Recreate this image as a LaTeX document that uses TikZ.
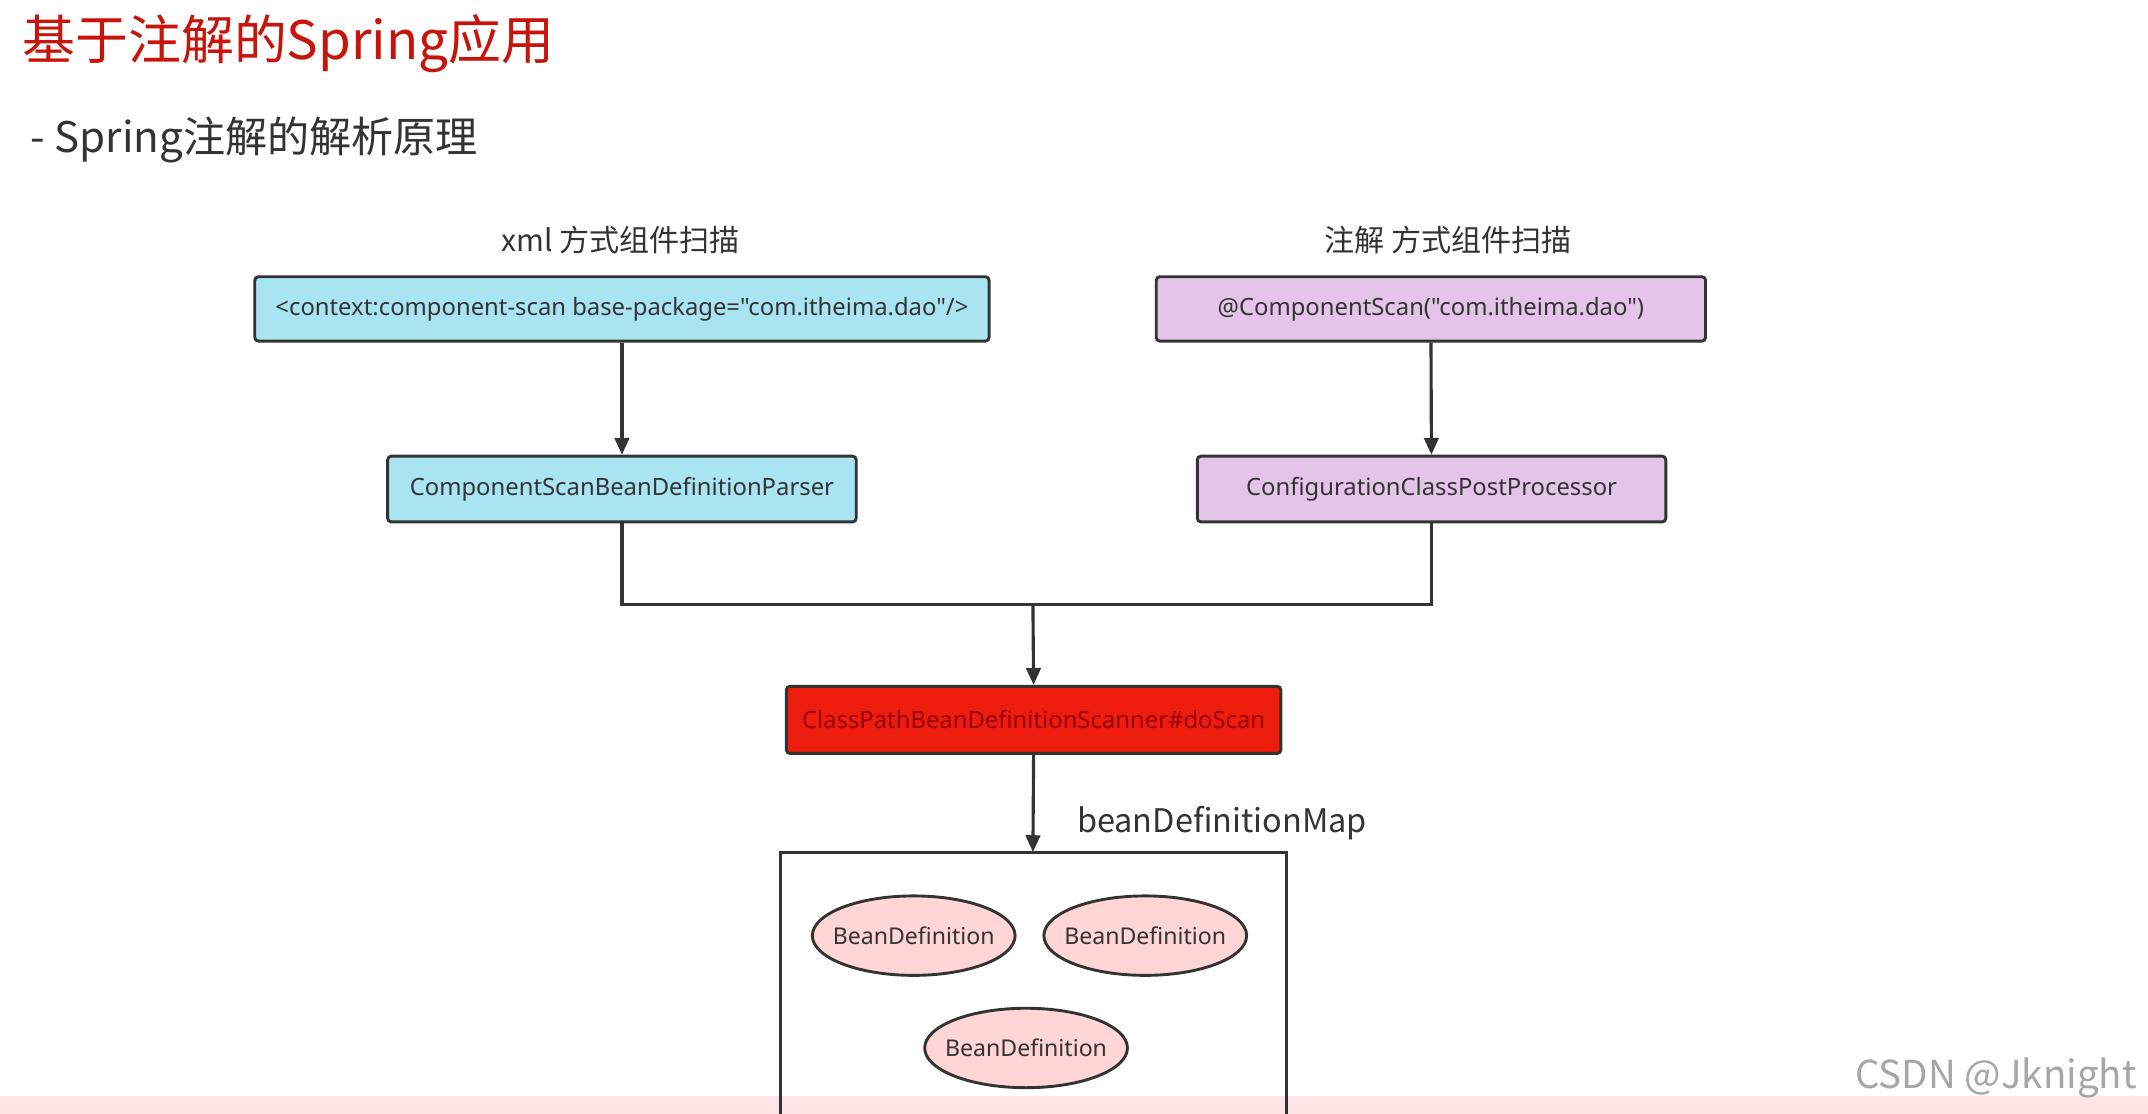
\documentclass[tikz,border=0pt]{standalone}
\usepackage{fontspec}
\setmainfont{Noto Sans CJK SC}
\newfontfamily\lat{Noto Sans}
\usetikzlibrary{arrows.meta,shapes.geometric}
\definecolor{cy}{HTML}{A8E4F2}
\definecolor{li}{HTML}{E5C4EA}
\definecolor{rd}{HTML}{EE1C0C}
\definecolor{pk}{HTML}{FFD5D5}
\definecolor{tx}{HTML}{333333}
\newcommand{\qq}{\symbol{34}}
\begin{document}
\begin{tikzpicture}[x=0.02cm,y=-0.02cm,
  box/.style={draw=tx,line width=1.2pt,rounded corners=1.5pt,inner sep=0,font=\lat\fontsize{9.9}{12}\selectfont,text=tx},
  ell/.style={draw=tx,line width=1.2pt,ellipse,fill=pk,inner xsep=-0.15cm,inner ysep=0.2cm,minimum width=148*0.02cm,minimum height=58*0.02cm,font=\lat\fontsize{9.6}{12}\selectfont,text=tx},
  arr/.style={draw=tx,line width=1.3pt,-{Triangle[length=7pt,width=6pt]}},
  ln/.style={draw=tx,line width=1.3pt}]
\useasboundingbox (0,0) rectangle (1568,813);
\fill[white] (0,0) rectangle (1568,813);
\fill[pink!40] (0,800) rectangle (1568,813);
\node[anchor=west,text={rgb,255:red,200;green,20;blue,10},font=\fontsize{22}{26}\selectfont] (title) at (10,32) {基于注解的Spring应用};
\node[anchor=west,text=tx,font=\fontsize{17.5}{20}\selectfont] (sub) at (16,102) {- Spring注解的解析原理};
\node[text=tx,font=\fontsize{12.5}{15}\selectfont] (l1) at (453,175) {xml 方式组件扫描};
\node[text=tx,font=\fontsize{12.5}{15}\selectfont] (l2) at (1057,175) {注解 方式组件扫描};
\node[box,fill=cy,minimum width=536*0.02cm,minimum height=47*0.02cm] (b1) at (454,225.5) {<context:component-scan base-package=\qq com.itheima.dao\qq/>};
\node[box,fill=li,minimum width=401*0.02cm,minimum height=47*0.02cm] (b2) at (1044.5,225.5) {@ComponentScan(\qq com.itheima.dao\qq)};
\node[box,fill=cy,minimum width=342*0.02cm,minimum height=48*0.02cm] (b3) at (454,357) {ComponentScanBeanDefinitionParser};
\node[box,fill=li,minimum width=342*0.02cm,minimum height=48*0.02cm] (b4) at (1045,357) {ConfigurationClassPostProcessor};
\node[box,fill=rd,text={rgb,255:red,150;green,0;blue,0},minimum width=361*0.02cm,minimum height=49*0.02cm] (b5) at (754.5,525.5) {ClassPathBeanDefinitionScanner\#doScan};
\coordinate (j) at (754,441);
\coordinate (ctop) at (754,622);
\draw[arr] (b1) -- (b3);
\draw[arr] (b2) -- (b4);
\draw[ln] (b3.south) |- (j) -| (b4.south);
\draw[arr] (j) -- (b5.north);
\draw[ln] (570,815) -- (570,622) -- (939,622) -- (939,815);
\draw[arr] (b5.south) -- (ctop);
\node[anchor=west,text=tx,font=\fontsize{13.5}{16}\selectfont] (map) at (780,601) {beanDefinitionMap};
\node[ell] (e1) at (667,683) {BeanDefinition};
\node[ell] (e2) at (836,683) {BeanDefinition};
\node[ell] (e3) at (749,765) {BeanDefinition};
\node[anchor=east,text=gray!70,font=\fontsize{16}{19}\selectfont] (wm) at (1566,787) {CSDN @Jknight};
\end{tikzpicture}
\end{document}
